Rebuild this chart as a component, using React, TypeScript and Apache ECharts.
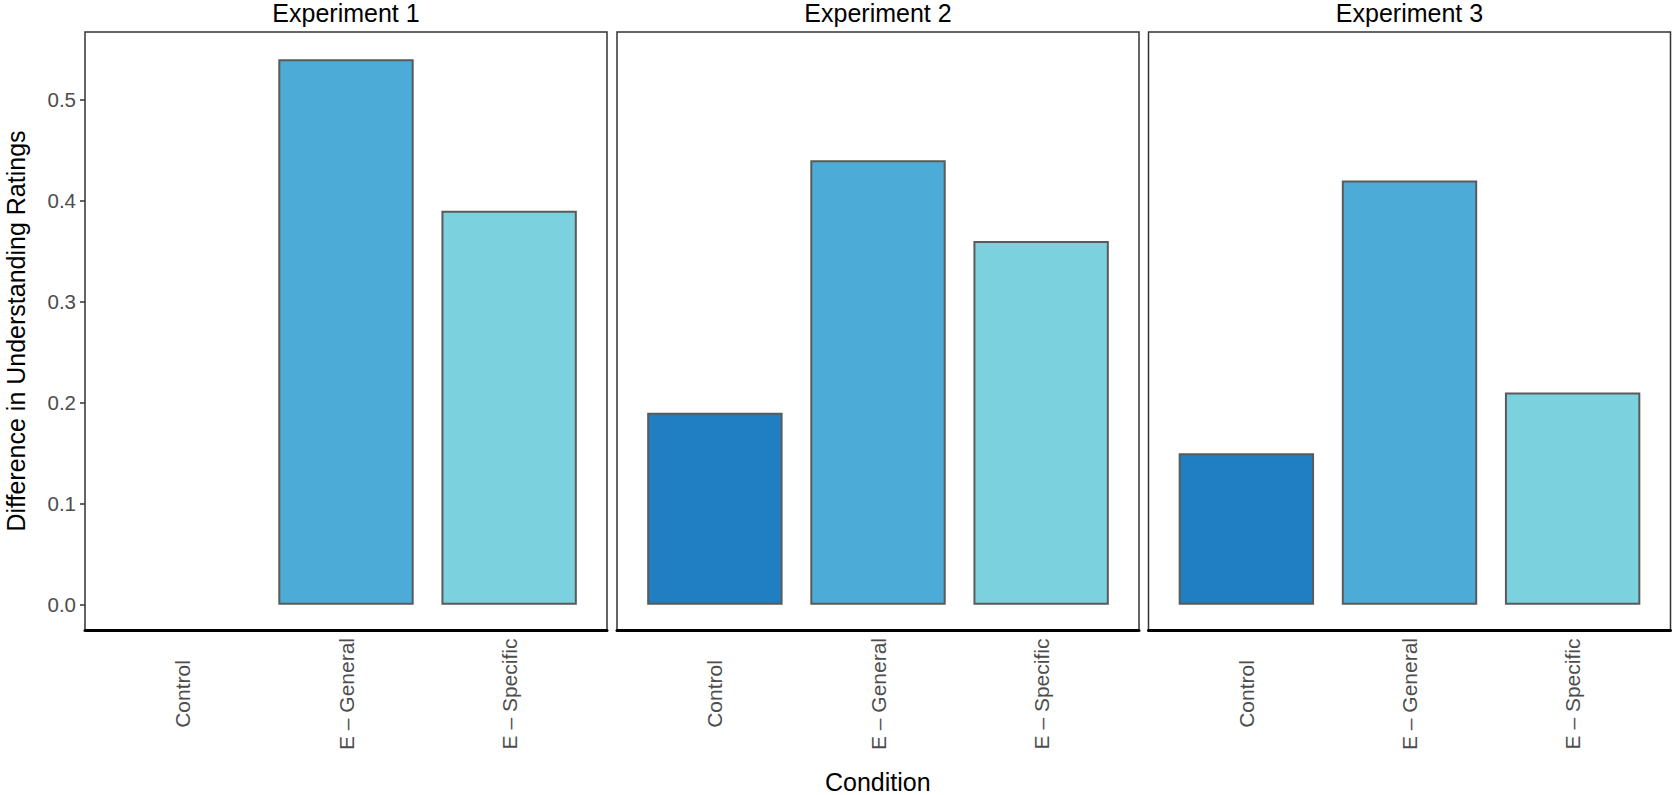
import React, { useRef, useEffect } from 'react';
import * as echarts from 'echarts';

// categories and values
const conditions = ['Control', 'E – General', 'E – Specific'];
const experiments = ['Experiment 1', 'Experiment 2', 'Experiment 3'];
const exp1Values = [null, 0.54, 0.39];
const exp2Values = [0.19, 0.44, 0.36];
const exp3Values = [0.15, 0.42, 0.21];
const yTicks = [0, 0.1, 0.2, 0.3, 0.4, 0.5];
const barColors = ['#1f7fc2', '#4dabd7', '#7bd1de'];

const FONT = '"Liberation Sans", Arial, sans-serif';
const PANEL_W = 522;
const PANEL_TOP = 32;
const PANEL_H = 598;
const panelLefts = [85, 617, 1148.5];
const Y_MIN = -0.025;
const Y_MAX = 0.567;

const App: React.FC = () => {
    const chartRef = useRef<HTMLDivElement>(null);

    useEffect(() => {
        if (!chartRef.current) return;
        const chart = echarts.init(chartRef.current, null, { renderer: 'svg' });

        const allValues = [exp1Values, exp2Values, exp3Values];
        const unit = PANEL_W / 3.2; // ggplot discrete expansion 0.6 each side

        const grids: any[] = [];
        const xAxes: any[] = [];
        const yAxes: any[] = [];
        const series: any[] = [];
        const graphics: any[] = [];

        panelLefts.forEach((left, i) => {
            // outer panel (border + bottom axis line)
            grids.push({
                left, top: PANEL_TOP, width: PANEL_W, height: PANEL_H,
                show: true, borderColor: '#333', borderWidth: 1.5, backgroundColor: '#fff'
            });
            // inner data area
            grids.push({
                left: left + 0.1 * unit, top: PANEL_TOP, width: 3 * unit, height: PANEL_H
            });

            xAxes.push({
                type: 'value', gridIndex: 2 * i, min: 0, max: 1,
                axisLine: { show: true, lineStyle: { color: '#000', width: 3 } },
                axisTick: { show: false }, axisLabel: { show: false }, splitLine: { show: false }
            });
            xAxes.push({
                type: 'category', gridIndex: 2 * i + 1, data: conditions,
                axisLine: { show: false }, axisTick: { show: false },
                axisLabel: {
                    rotate: 90, align: 'center', verticalAlign: 'middle', margin: 64,
                    fontSize: 21, color: '#4d4d4d', fontFamily: FONT, interval: 0
                }
            });

            yAxes.push({
                type: 'value', gridIndex: 2 * i, min: 0, max: 1, show: false
            });
            yAxes.push({
                type: 'value', gridIndex: 2 * i + 1, min: Y_MIN, max: Y_MAX,
                show: i === 0, offset: 0.1 * unit,
                axisLine: { show: false },
                splitLine: { show: false },
                axisTick: {
                    show: true, length: 5, customValues: yTicks,
                    lineStyle: { color: '#333', width: 1.5 }
                },
                axisLabel: {
                    customValues: yTicks, margin: 9, fontSize: 20.5, color: '#4d4d4d',
                    fontFamily: FONT, formatter: (v: number) => v.toFixed(1)
                }
            });

            series.push({
                type: 'bar', xAxisIndex: 2 * i + 1, yAxisIndex: 2 * i + 1,
                barWidth: '83%',
                data: allValues[i].map((v, j) => ({
                    value: v,
                    itemStyle: { color: barColors[j] }
                })),
                itemStyle: { borderColor: '#5a5a5a', borderWidth: 2 }
            });

            graphics.push({
                type: 'text', x: left + PANEL_W / 2, y: 13,
                style: {
                    text: experiments[i], textAlign: 'center', textVerticalAlign: 'middle',
                    fontSize: 25, fill: '#000', fontFamily: FONT
                }
            });
        });

        graphics.push({
            type: 'text', x: 16, y: PANEL_TOP + PANEL_H / 2, rotation: Math.PI / 2,
            style: {
                text: 'Difference in Understanding Ratings', textAlign: 'center',
                textVerticalAlign: 'middle', fontSize: 25, fill: '#000', fontFamily: FONT
            }
        });
        graphics.push({
            type: 'text', x: (panelLefts[0] + panelLefts[2] + PANEL_W) / 2, y: 782,
            style: {
                text: 'Condition', textAlign: 'center', textVerticalAlign: 'middle',
                fontSize: 25, fill: '#000', fontFamily: FONT
            }
        });

        chart.setOption({
            animation: false,
            backgroundColor: '#fff',
            textStyle: { fontFamily: FONT },
            grid: grids,
            xAxis: xAxes,
            yAxis: yAxes,
            series,
            graphic: graphics
        });

        return () => {
            chart.dispose();
        };
    }, []);

    return (
        <div
            ref={chartRef}
            style={{ position: 'absolute', left: 0, top: 0, width: '1675px', height: '795px' }}
        />
    );
};

export default App;
